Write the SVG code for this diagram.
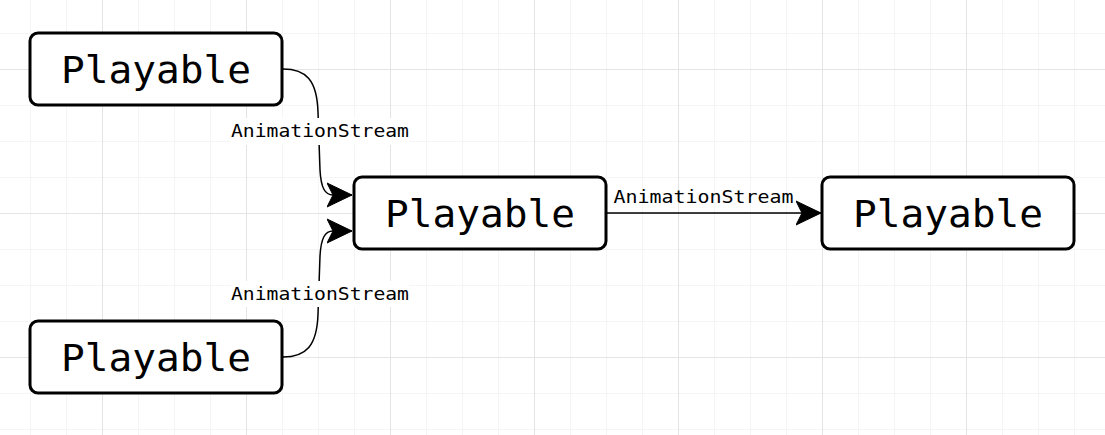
<svg xmlns="http://www.w3.org/2000/svg" width="1105" height="435" viewBox="0 0 1105 435">
  <style>
    .node rect { fill: #ffffff; stroke: #000000; stroke-width: 3; }
    .node text { font-family: "DejaVu Sans Mono", "Liberation Mono", monospace; font-size: 37px; fill: #000000; text-anchor: middle; }
    .edge { fill: none; stroke: #000000; stroke-width: 1.5; marker-end: url(#arrow); }
    .lbl { font-family: "DejaVu Sans Mono", "Liberation Mono", monospace; font-size: 18px; fill: #000000; text-anchor: middle; }
    .lblbg { fill: #ffffff; }
  </style>
  <defs>
    <pattern id="gridMinor" patternUnits="userSpaceOnUse" x="30" y="33" width="36" height="36">
      <path d="M 0 0.5 H 36 M 0.5 0 V 36" fill="none" stroke="#f5f5f5" stroke-width="1"/>
    </pattern>
    <pattern id="gridMajor" patternUnits="userSpaceOnUse" x="102" y="69" width="144" height="144">
      <path d="M 0 0.5 H 144 M 0.5 0 V 144" fill="none" stroke="#e4e4e4" stroke-width="1"/>
    </pattern>
    <marker id="arrow" markerUnits="userSpaceOnUse" viewBox="0 0 26 26" markerWidth="26" markerHeight="26" refX="25" refY="13" orient="auto">
      <path d="M 25 13 L 0 1 L 6 13 L 0 25 Z" fill="#000000" stroke="#000000" stroke-width="1" stroke-linejoin="miter"/>
    </marker>
  </defs>

  <rect x="0" y="0" width="1105" height="435" fill="#ffffff"/>
  <rect x="0" y="0" width="1105" height="435" fill="url(#gridMinor)"/>
  <rect x="0" y="0" width="1105" height="435" fill="url(#gridMajor)"/>

  <g id="connectors">
    <path class="edge" d="M 283 69 C 306 69, 317 80, 318 112 L 320 170 C 321 188, 325 195, 333 195 L 352 195"/>
    <path class="edge" d="M 283 357 C 306 357, 317 346, 318 314 L 320 256 C 321 238, 325 231, 333 231 L 352 231"/>
    <path class="edge" d="M 606 213 L 821 213"/>
    <g id="edge-labels">
      <rect class="lblbg" x="231" y="118" width="178" height="27"/>
      <text class="lbl" x="320" y="137" textLength="178" lengthAdjust="spacingAndGlyphs">AnimationStream</text>
      <rect class="lblbg" x="231" y="281" width="178" height="26"/>
      <text class="lbl" x="320" y="300" textLength="178" lengthAdjust="spacingAndGlyphs">AnimationStream</text>
      <text class="lbl" x="703.5" y="203" textLength="180" lengthAdjust="spacingAndGlyphs">AnimationStream</text>
    </g>
  </g>

  <g id="node-top" class="node">
    <rect x="30" y="33" width="252" height="72" rx="8" ry="8"/>
    <text x="156" y="83" textLength="190" lengthAdjust="spacingAndGlyphs">Playable</text>
  </g>
  <g id="node-center" class="node">
    <rect x="354" y="177" width="252" height="72" rx="8" ry="8"/>
    <text x="480" y="227" textLength="190" lengthAdjust="spacingAndGlyphs">Playable</text>
  </g>
  <g id="node-right" class="node">
    <rect x="822" y="177" width="252" height="72" rx="8" ry="8"/>
    <text x="948" y="227" textLength="190" lengthAdjust="spacingAndGlyphs">Playable</text>
  </g>
  <g id="node-bottom" class="node">
    <rect x="30" y="321" width="252" height="72" rx="8" ry="8"/>
    <text x="156" y="371" textLength="190" lengthAdjust="spacingAndGlyphs">Playable</text>
  </g>
</svg>
